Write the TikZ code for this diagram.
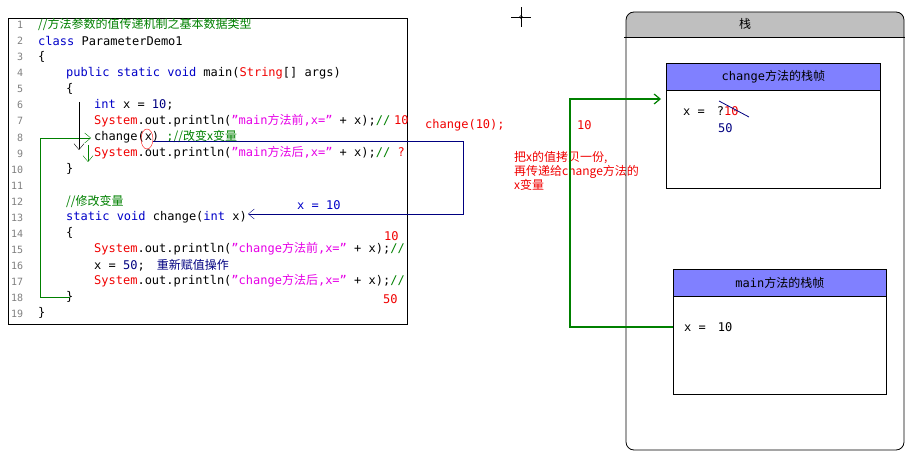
\documentclass[tikz,border=0pt]{standalone}
\usepackage{fontspec}
\setmainfont{DejaVu Sans Mono}
\newfontfamily\cjk{Noto Sans CJK SC}
\usetikzlibrary{arrows.meta,positioning,shapes.geometric}
\definecolor{kw}{RGB}{0,0,200}
\definecolor{cmt}{RGB}{0,128,0}
\definecolor{st}{RGB}{230,0,230}
\definecolor{sy}{RGB}{240,0,0}
\definecolor{hd}{RGB}{128,128,255}
\definecolor{nv}{RGB}{0,0,128}
\newcommand{\C}[1]{{\cjk #1}}
\begin{document}
\begin{tikzpicture}[x=1pt,y=-1pt,font=\fontsize{12}{14}\selectfont,
		>={Straight Barb[length=6pt,width=10pt]},
		code node/.style={anchor=west, inner sep=0pt},
		num node/.style={anchor=west, inner sep=0pt, text=gray, font=\fontsize{10}{12}\selectfont},
		note node/.style={anchor=west, inner sep=0pt, text=sy},
		frame node/.style={rectangle, draw, thick},
		head node/.style={rectangle, draw, thick, fill=hd, minimum height=27pt}]

	\useasboundingbox (0,0) rectangle (913,457);
	% code box
	\node[frame node, minimum width=399pt, minimum height=306pt, anchor=north west] (code) at (8,18) {};
	\foreach \i in {1,...,19} {
		\node[num node] (n\i) at (11,25+16.06*\i-16.06) {\ifnum\i<10 \phantom{0}\fi\i};
	}
	\node[code node, text=cmt] (l1) at (38,25) {\C{//方法参数的值传递机制之基本数据类型}};
	\node[code node] (l2) at (38,41) {\textcolor{kw}{class} ParameterDemo1};
	\node[code node] (l3) at (38,57) {\{};
	\node[code node] (l4) at (66,73) {\textcolor{kw}{public static void} main(\textcolor{sy}{String}[] args)};
	\node[code node] (l5) at (66,89) {\{};
	\node[code node] (l6) at (94,105) {\textcolor{kw}{int} x = \textcolor{nv}{10};};
	\node[code node] (l7) at (94,121) {\textcolor{sy}{System}.out.println(\textcolor{st}{"main\C{方法前},x="} + x);\textcolor{cmt}{//}};
	\node[code node] (l8) at (94,137) {change(x) \textcolor{cmt}{;\C{//改变x变量}}};
	\node[code node] (l9) at (94,153) {\textcolor{sy}{System}.out.println(\textcolor{st}{"main\C{方法后},x="} + x);\textcolor{cmt}{//} \textcolor{sy}{?}};
	\node[code node] (l10) at (66,169) {\}};
	\node[code node, text=cmt] (l12) at (66,201) {\C{//修改变量}};
	\node[code node] (l13) at (66,217) {\textcolor{kw}{static void} change(\textcolor{kw}{int} x)};
	\node[code node] (l14) at (66,233) {\{};
	\node[code node] (l15) at (94,249) {\textcolor{sy}{System}.out.println(\textcolor{st}{"change\C{方法前},x="} + x);\textcolor{cmt}{//}};
	\node[code node] (l16) at (94,265) {x = \textcolor{nv}{50};\quad\textcolor{nv}{\C{重新赋值操作}}};
	\node[code node] (l17) at (94,281) {\textcolor{sy}{System}.out.println(\textcolor{st}{"change\C{方法后},x="} + x);\textcolor{cmt}{//}};
	\node[code node] (l18) at (66,297) {\}};
	\node[code node] (l19) at (38,313) {\}};

	% red notes
	\node[note node] (v7) at (394,120) {10};
	\node[note node] (v15) at (384,236) {10};
	\node[note node] (v17) at (383,299) {50};
	\node[note node] (call) at (425,125) {change(10);};
	\node[note node] (copy) at (577,125) {10};
	\node[note node, align=left, font=\cjk\fontsize{12}{14}\selectfont] (hint) at (514,171) {把x的值拷贝一份,\\再传递给change方法的\\x变量};
	\node[draw=red, ellipse, inner sep=0pt, minimum width=12pt, minimum height=20pt] (arg) at (147,139) {};

	% stack
	\draw[thick, rounded corners=8pt, fill=black!25] (626,37) -- (626,12) -- (904,12) -- (904,37);
	\draw[thick, rounded corners=8pt] (626,37) -- (626,450) -- (904,450) -- (904,37);
	\draw[thick] (624,37) -- (905,37);
	\node[font=\cjk\fontsize{12}{14}\selectfont] (stack) at (745,24) {栈};
	\node[frame node, minimum width=214pt, minimum height=125pt, anchor=north west] (cf) at (666,63) {};
	\node[head node, minimum width=214pt, anchor=north west] (cfh) at (666,63) {change\C{方法的栈帧}};
	\node[frame node, minimum width=213pt, minimum height=125pt, anchor=north west] (mf) at (673,269) {};
	\node[head node, minimum width=213pt, anchor=north west] (mfh) at (673,269) {main\C{方法的栈帧}};
	\node[code node] (cx) at (683,111) {x =\quad ?\textcolor{sy}{10}};
	\node[code node, text=nv] (c50) at (718,128) {50};
	\coordinate (s1) at (719,101);
	\coordinate (s2) at (749,117);
	\draw[nv, thick] (s1) -- (s2);
	\node[code node] (mx) at (684,327) {x =\quad 10};

	% blue call path
	\coordinate (b1) at (153,141);
	\coordinate (b2) at (463,141);
	\coordinate (b3) at (463,214);
	\coordinate (b4) at (248,214);
	\draw[nv, ->] (b1) -- (b2) -- (b3) -- (b4);
	\node[code node, text=kw] (bx) at (297,205) {x = 10};

	% green return path
	\coordinate (g1) at (70,297);
	\coordinate (g2) at (40,297);
	\coordinate (g3) at (40,138);
	\coordinate (g4) at (91,138);
	\draw[cmt, ->] (g1) -- (g2) -- (g3) -- (g4);
	\coordinate (k1) at (79,102);
	\coordinate (k2) at (79,150);
	\draw[->] (k1) -- (k2);
	\coordinate (d1) at (88,145);
	\coordinate (d2) at (88,162);
	\draw[cmt, ->] (d1) -- (d2);

	% green copy path
	\coordinate (c1) at (673,327);
	\coordinate (c2) at (570,327);
	\coordinate (c3) at (570,99);
	\coordinate (c4) at (661,99);
	\draw[cmt, very thick, ->] (c1) -- (c2) -- (c3) -- (c4);

	% crosshair
	\coordinate (x0) at (521,17);
	\draw ([xshift=-10pt]x0) -- ([xshift=10pt]x0) ([yshift=-10pt]x0) -- ([yshift=10pt]x0);
	\draw (x0) circle (1.5pt);
\end{tikzpicture}
\end{document}
